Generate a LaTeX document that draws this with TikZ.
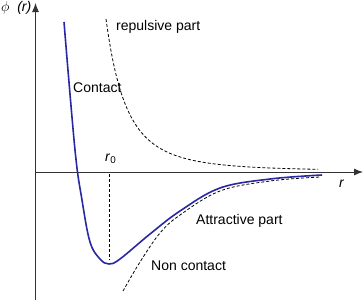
\documentclass[tikz,border=0pt]{standalone}
\usepackage{fontspec}
\setmainfont{Liberation Sans}
\usepackage{tikz}
\usetikzlibrary{arrows.meta}
\definecolor{curveBlue}{RGB}{40,40,165}
\tikzset{
	% axes and the labels on them
	axis/.style={draw=black!80, line width=0.9pt, -{Latex[length=9pt,width=7pt]}},
	part/.style={draw=black, line width=0.8pt, dash pattern=on 3pt off 2pt},
	potential/.style={draw=curveBlue, line width=1.6pt},
	tag/.style={anchor=west, inner sep=0pt, font=\fontsize{14}{16}\selectfont},
}

\begin{document}
\begin{tikzpicture}[x=1pt, y=-1pt]
	\useasboundingbox (0,0) rectangle (363,300);
	% Axes
	\coordinate (O) at (35.5,172);
	\coordinate (yFoot) at (35.5,300);
	\coordinate (yTop) at (35.5,3);
	\coordinate (xEnd) at (363,172);
	\draw[axis] (yFoot) -- (yTop);
	\draw[axis] (O) -- (xEnd);
	\node[tag] (phiLabel) at (1,8) {$\phi$\ \ \textit{(r)}};
	\node[tag] (rLabel) at (339,184) {\textit{r}};
	% Repulsive and attractive parts
	\draw[part] plot[domain=106:318, samples=90] (\x, {171 - 21*(118/(\x-45))^3});
	\draw[part] plot[smooth, tension=0.6] coordinates {
		(123,291) (140,262) (160,233) (180,215) (220,191) (270,181) (320,177)};
	% Potential
	\draw[potential] plot[smooth, tension=0.6] coordinates {
		(64,22) (75,150) (82,200) (90,242) (100,259) (109,264) (120,259)
		(150,234) (180,211) (220,188) (270,179) (322,175)};
	\coordinate (minPoint) at (109,260);
	\coordinate (rZero) at (109,174);
	\draw[part] (rZero) -- (minPoint);
	\node[tag] (rZeroLabel) at (105,159) {\textit{r}\textsubscript{0}};
	% Labels
	\node[tag] (repLabel) at (116,27) {repulsive part};
	\node[tag] (contactLabel) at (73,88) {Contact};
	\node[tag] (attLabel) at (196,221) {Attractive part};
	\node[tag] (nonLabel) at (151,266) {Non contact};
\end{tikzpicture}
\end{document}
